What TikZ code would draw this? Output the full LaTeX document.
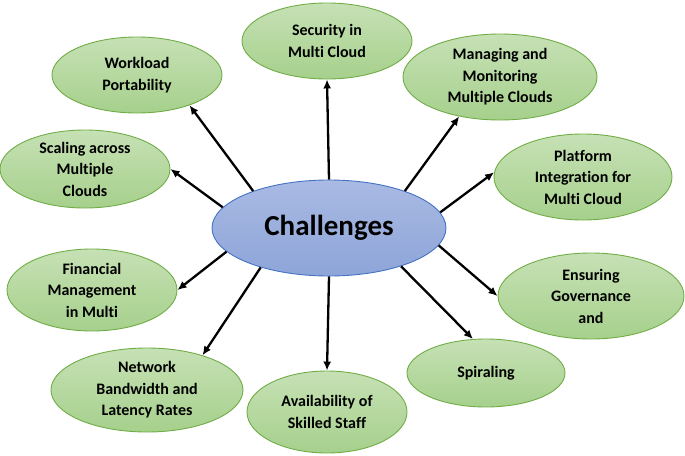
\documentclass[tikz,border=0pt]{standalone}
\usepackage{fontspec}
\setmainfont[Ligatures=NoCommon]{Carlito}
\usetikzlibrary{arrows.meta,shapes.geometric}
\definecolor{leafline}{HTML}{70AD47}
\definecolor{leaftop}{HTML}{C6E1B5}
\definecolor{leafbot}{HTML}{A6D08C}
\definecolor{hubline}{HTML}{4472C4}
\definecolor{hubtop}{HTML}{A9BAE3}
\definecolor{hubbot}{HTML}{8EA5D9}

\begin{document}
\begin{tikzpicture}[x=1pt,y=-1pt,>={Latex[length=9pt,width=8pt]},
  issue/.style={ellipse,draw=leafline,line width=0.9pt,top color=leaftop,bottom color=leafbot,inner sep=0pt,align=center,font=\fontsize{16}{21.5}\selectfont\bfseries},
  hub/.style={ellipse,draw=hubline,line width=0.9pt,top color=hubtop,bottom color=hubbot,inner sep=0pt,font=\fontsize{29}{34}\selectfont\bfseries},
  link/.style={->,line width=2.3pt}]
\useasboundingbox (0,0) rectangle (685,455);
\node[hub,minimum width=234pt,minimum height=96pt] (ch) at (329,228) {Challenges};
\node[issue,minimum width=170pt,minimum height=76pt] (sec) at (327,41) {Security in\\Multi Cloud};
\node[issue,minimum width=170pt,minimum height=76pt] (wl) at (137,75) {Workload\\Portability};
\node[issue,minimum width=194pt,minimum height=86pt] (mm) at (500,77) {Managing and\\Monitoring\\Multiple Clouds};
\node[issue,minimum width=170pt,minimum height=78pt] (sc) at (85,169) {Scaling across\\Multiple\\Clouds};
\node[issue,minimum width=178pt,minimum height=86pt] (pi) at (583,177) {Platform\\Integration for\\Multi Cloud};
\node[issue,minimum width=170pt,minimum height=82pt] (fm) at (92,290) {Financial\\Management\\in Multi};
\node[issue,minimum width=186pt,minimum height=86pt] (gov) at (591,296) {Ensuring\\Governance\\and};
\node[issue,minimum width=192pt,minimum height=84pt] (nb) at (147,390) {Network\\Bandwidth and\\Latency Rates};
\node[issue,minimum width=158pt,minimum height=68pt] (sp) at (486,373) {Spiraling};
\node[issue,minimum width=160pt,minimum height=82pt] (av) at (327,412) {Availability of\\Skilled Staff};
% spokes
\draw[link] (ch.north)--(sec.south);
\draw[link] (ch.154)--(wl.-30);
\draw[link] (ch.26)--(mm.-136);
\draw[link] (ch.169)--(sc.east);
\draw[link] (ch.8)--(pi.177);
\draw[link] (ch.-167)--(fm.east);
\draw[link] (ch.-9)--(gov.west);
\draw[link] (ch.-150)--(nb.32);
\draw[link] (ch.-28)--(sp.111);
\draw[link] (ch.south)--(av.north);
\end{tikzpicture}
\end{document}
